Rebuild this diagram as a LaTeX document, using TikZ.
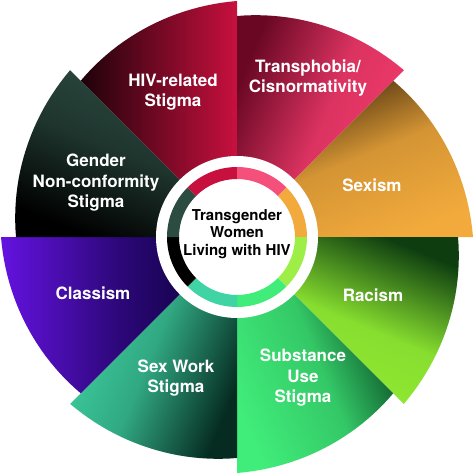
\documentclass[tikz,border=0pt]{standalone}
\usepackage{fontspec}
\setmainfont{TeX Gyre Heros}

\definecolor{hivA}{HTML}{1E020A}\definecolor{hivB}{HTML}{C8103E}
\definecolor{trA}{HTML}{6A0824}\definecolor{trB}{HTML}{F43C6E}
\definecolor{sexA}{HTML}{3A240A}\definecolor{sexB}{HTML}{F2AA3C}
\definecolor{racA}{HTML}{0E3E10}\definecolor{racB}{HTML}{92EC32}
\definecolor{subA}{HTML}{04381A}\definecolor{subB}{HTML}{40EC7A}
\definecolor{swA}{HTML}{062C22}\definecolor{swB}{HTML}{40D4A4}
\definecolor{clA}{HTML}{04002E}\definecolor{clB}{HTML}{6412E0}
\definecolor{genA}{HTML}{000000}\definecolor{genB}{HTML}{2C4C42}

\begin{document}
\begin{tikzpicture}[
        x=1pt, y=1pt,
        sectxt/.style={text=white, align=center, font=\bfseries\fontsize{17}{20.5}\selectfont},
        hubtxt/.style={text=black, align=center, font=\bfseries\fontsize{15}{17.5}\selectfont},
    ]
    \useasboundingbox (-237,-237) rectangle (237,237);
    % sectors, radius grows clockwise
    \foreach \a/\sh/\mx/\dk/\br in {135/-90/50/hivA/hivB, 90/-112.5/82/trA/trB,
                                    45/-157.5/84/sexA/sexB, 0/157.5/92/racA/racB,
                                    -45/112.5/80/subA/subB, -90/67.5/74/swA/swB,
                                    -135/90/42/clA/clB, 180/-22.5/70/genA/genB}{
        \shade[bottom color=\dk, top color=\br, middle color=\br!\mx!\dk, shading angle=\sh]
            (0,0) -- plot[domain=\a:\a-45, samples=25] ({\x}:{221+(\a-\x)/3}) -- cycle;
    }
    % hub
    \fill[white] (0,0) circle (81);
    \foreach \a/\c in {135/hivB, 90/trB!90!white, 45/sexB, 0/racB!90!white,
                       -45/subB, -90/swB, -135/black, 180/genB}{
        \fill[\c] (\a:70) arc (\a:\a-45:70) -- ({\a-45}:58) arc (\a-45:\a:58) -- cycle;
    }
    \node[hubtxt] (hub) at (0,3) {Transgender\\Women\\Living with HIV};
    \node[sectxt] (hiv) at (-64,145) {HIV-related\\Stigma};
    \node[sectxt] (trans) at (71,159) {Transphobia/\\Cisnormativity};
    \node[sectxt] (sexism) at (135,52) {Sexism};
    \node[sectxt] (racism) at (136,-58) {Racism};
    \node[sectxt] (subst) at (66,-141) {Substance\\Use\\Stigma};
    \node[sectxt] (sexwork) at (-61,-141) {Sex Work\\Stigma};
    \node[sectxt] (classism) at (-144,-56) {Classism};
    \node[sectxt] (gender) at (-141,54) {Gender\\Non-conformity\\Stigma};
\end{tikzpicture}
\end{document}
